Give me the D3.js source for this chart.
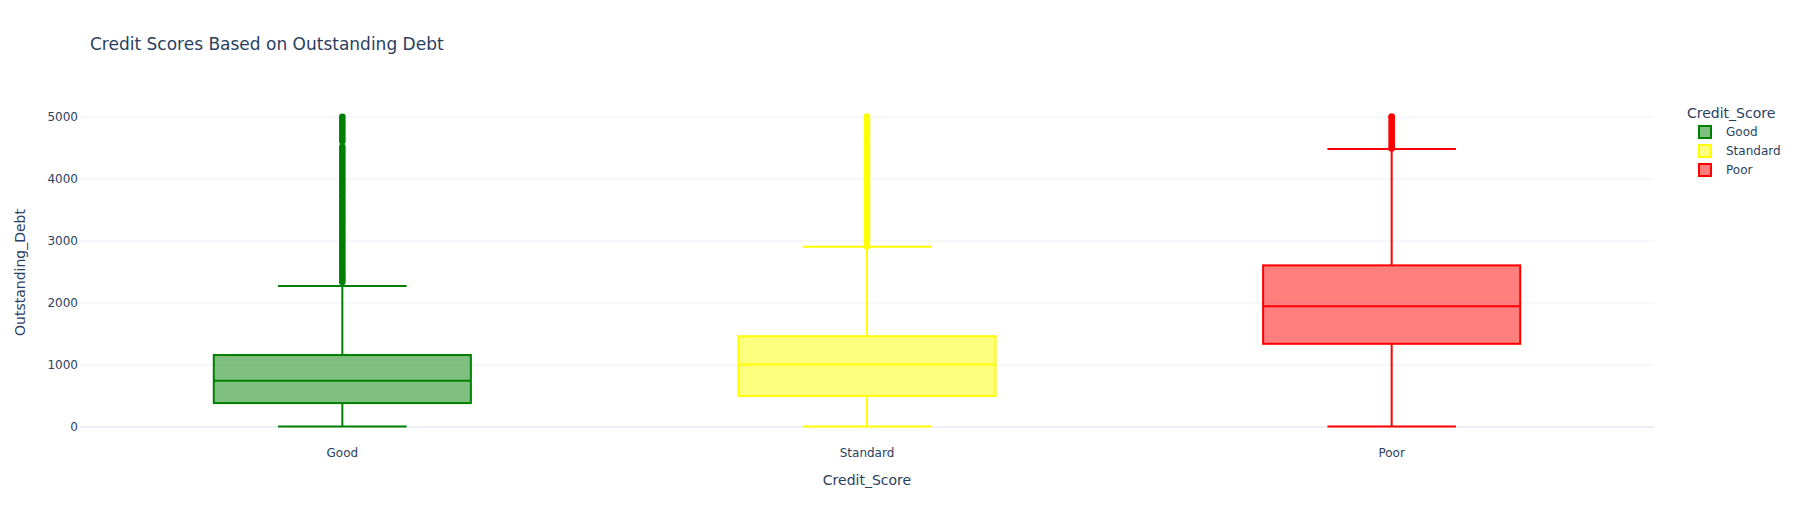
<!DOCTYPE html>
<html>
<head>
<meta charset="utf-8">
<script src="https://cdn.jsdelivr.net/npm/d3@7"></script>
<style>
  body { margin: 0; background: #fff; }
  text { font-family: "DejaVu Sans", verdana, arial, sans-serif; fill: #2a3f5f; }
</style>
</head>
<body>
<div id="chart"></div>
<script>
var width = 1798,
    height = 525,
    margin = { top: 100, right: 144, bottom: 80, left: 80 }

// box statistics
var categories = ['Good', 'Standard', 'Poor']
var lowerFence = [0, 0, 0]
var q1 = [378, 493, 1334]
var median = [738, 1000, 1940]
var q3 = [1153, 1456, 2599]
var upperFence = [2268, 2899, 4475]

var goodOutliers = [2332, 2371, 2410, 2455, 2498, 2540, 2586, 2630, 2671, 2718, 2760, 2805,
    2851, 2893, 2940, 2982, 3027, 3070, 3118, 3160, 3204, 3250, 3296, 3338, 3385, 3430,
    3472, 3518, 3563, 3610, 3650, 3697, 3742, 3790, 3832, 3880, 3921, 3968, 4012, 4060,
    4103, 4150, 4195, 4238, 4285, 4330, 4372, 4418, 4465, 4512, 4600, 4645, 4690, 4736,
    4780, 4826, 4870, 4915, 4958, 4996]
var standardOutliers = [2905, 2940, 2982, 3025, 3068, 3110, 3152, 3196, 3240, 3281, 3326,
    3368, 3410, 3455, 3497, 3540, 3585, 3628, 3670, 3712, 3756, 3800, 3843, 3886, 3930,
    3972, 4015, 4060, 4102, 4146, 4188, 4232, 4275, 4318, 4362, 4405, 4448, 4490, 4535,
    4578, 4620, 4663, 4706, 4750, 4793, 4836, 4880, 4922, 4965, 4998]
var poorOutliers = [4482, 4520, 4561, 4603, 4645, 4688, 4730, 4772, 4815, 4858, 4900,
    4943, 4985, 4998]
var outliers = [goodOutliers, standardOutliers, poorOutliers]

var lineColors = ['#008000', '#ffff00', '#ff0000']
var fillColors = ['rgba(0,128,0,0.5)', 'rgba(255,255,0,0.5)', 'rgba(255,0,0,0.5)']
var yTicks = [0, 1000, 2000, 3000, 4000, 5000]

var x = d3.scaleBand()
    .domain(categories)
    .range([margin.left, width - margin.right])

var y = d3.scaleLinear()
    .domain([-298, 5266])
    .range([height - margin.bottom, margin.top])

var svg = d3.select('#chart').append('svg')
    .attr('width', width)
    .attr('height', height)

// grid + y axis labels
var yAxis = svg.append('g')
    .attr('transform', 'translate(' + margin.left + ',0)')
    .call(d3.axisLeft(y).tickValues(yTicks).tickFormat(d3.format('d'))
        .tickSize(-(width - margin.left - margin.right)).tickPadding(2))
yAxis.select('.domain').remove()
yAxis.selectAll('.tick line')
    .attr('stroke', '#EBF0F8')
    .attr('stroke-width', function(d) { return d === 0 ? 2 : 1 })
yAxis.selectAll('.tick text')
    .attr('font-size', 12)
    .attr('font-family', null)
    .attr('fill', '#2a3f5f')

var xAxis = svg.append('g')
    .attr('transform', 'translate(0,' + (height - margin.bottom) + ')')
    .call(d3.axisBottom(x).tickSize(0).tickPadding(3))
xAxis.select('.domain').remove()
xAxis.selectAll('.tick text')
    .attr('font-size', 12)
    .attr('font-family', null)
    .attr('fill', '#2a3f5f')
svg.selectAll('g').attr('font-family', null)

var boxW = x.bandwidth() * 0.49,
    capW = boxW / 2

var boxes = svg.append('g').selectAll('g.box')
    .data(categories)
    .enter().append('g')
        .attr('class', 'box')
        .attr('transform', function(d) { return 'translate(' + (x(d) + x.bandwidth() / 2) + ',0)' })

// whiskers
boxes.append('path')
    .attr('fill', 'none')
    .attr('stroke', function(d, i) { return lineColors[i] })
    .attr('stroke-width', 2)
    .attr('d', function(d, i) {
        return 'M0,' + y(q3[i]) + 'V' + y(upperFence[i]) +
            'M' + (-capW / 2) + ',' + y(upperFence[i]) + 'H' + (capW / 2) +
            'M0,' + y(q1[i]) + 'V' + y(lowerFence[i]) +
            'M' + (-capW / 2) + ',' + y(lowerFence[i]) + 'H' + (capW / 2)
    })

boxes.append('rect')
    .attr('x', -boxW / 2)
    .attr('width', boxW)
    .attr('y', function(d, i) { return y(q3[i]) })
    .attr('height', function(d, i) { return y(q1[i]) - y(q3[i]) })
    .attr('fill', function(d, i) { return fillColors[i] })
    .attr('stroke', function(d, i) { return lineColors[i] })
    .attr('stroke-width', 2)

boxes.append('line')
    .attr('x1', -boxW / 2)
    .attr('x2', boxW / 2)
    .attr('y1', function(d, i) { return y(median[i]) })
    .attr('y2', function(d, i) { return y(median[i]) })
    .attr('stroke', function(d, i) { return lineColors[i] })
    .attr('stroke-width', 2)

boxes.each(function(d, i) {
    d3.select(this).selectAll('circle')
        .data(outliers[i])
        .enter().append('circle')
            .attr('cx', 0)
            .attr('cy', function(v) { return y(v) })
            .attr('r', 3.3)
            .attr('fill', lineColors[i])
})

// title + axis titles
svg.append('text')
    .attr('x', 90)
    .attr('y', 50)
    .attr('font-size', 17)
    .text('Credit Scores Based on Outstanding Debt')

svg.append('text')
    .attr('x', (margin.left + width - margin.right) / 2)
    .attr('y', 485)
    .attr('text-anchor', 'middle')
    .attr('font-size', 14)
    .text('Credit_Score')

svg.append('text')
    .attr('transform', 'translate(25,' + ((margin.top + height - margin.bottom) / 2) + ') rotate(-90)')
    .attr('text-anchor', 'middle')
    .attr('font-size', 14)
    .text('Outstanding_Debt')

// legend
var legend = svg.append('g')

legend.append('text')
    .attr('x', 1687)
    .attr('y', 118)
    .attr('font-size', 14)
    .text('Credit_Score')

var items = legend.selectAll('g.item')
    .data(categories)
    .enter().append('g')
        .attr('class', 'item')
        .attr('transform', function(d, i) { return 'translate(1705,' + (132 + i * 19) + ')' })

items.append('rect')
    .attr('x', -6).attr('y', -6)
    .attr('width', 12).attr('height', 12)
    .attr('fill', function(d, i) { return fillColors[i] })
    .attr('stroke', function(d, i) { return lineColors[i] })
    .attr('stroke-width', 2)

items.append('text')
    .attr('x', 21)
    .attr('dy', '0.35em')
    .attr('font-size', 12)
    .text(function(d) { return d })
</script>
</body>
</html>
